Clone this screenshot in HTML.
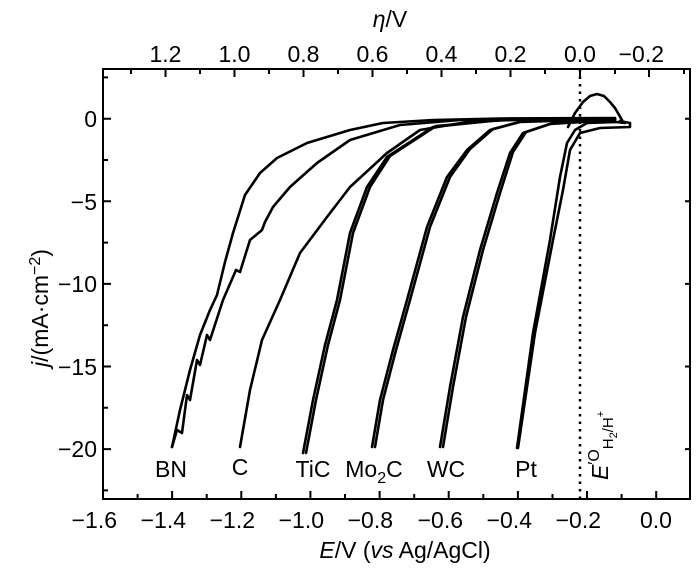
<!DOCTYPE html>
<html><head><meta charset="utf-8"><style>
html,body{margin:0;padding:0;background:#fff;}
svg{display:block;font-family:"Liberation Sans",Arial,sans-serif;}
</style></head><body>
<svg width="700" height="573" viewBox="0 0 700 573" xmlns="http://www.w3.org/2000/svg">
<rect x="0" y="0" width="700" height="573" fill="#fff"/>
<g stroke="#000" stroke-width="2" fill="none">
<rect x="103" y="69" width="587" height="430"/>
<path d="M103,499v-8 M137.6,499v-5 M172.1,499v-8 M206.7,499v-5 M241.3,499v-8 M275.9,499v-5 M310.4,499v-8 M345,499v-5 M379.6,499v-8 M414.2,499v-5 M448.7,499v-8 M483.3,499v-5 M517.9,499v-8 M552.5,499v-5 M587,499v-8 M621.6,499v-5 M656.2,499v-8"/>
<path d="M165.5,69v8 M200,69v5 M234.5,69v8 M269,69v5 M303.5,69v8 M338,69v5 M372.5,69v8 M407,69v5 M441.5,69v8 M476,69v5 M510.5,69v8 M545,69v5 M580,69v8 M615,69v5 M649,69v8 M684,69v5 M131,69v5"/>
<path d="M103,118.7h8 M103,160h5 M103,201.3h8 M103,242.6h5 M103,283.9h8 M103,325.2h5 M103,366.5h8 M103,407.8h5 M103,449.1h8 M103,490.4h5 M103,77.4h5"/>
<path d="M690,118.7h-5 M690,201.3h-5 M690,283.9h-5 M690,366.5h-5 M690,449.1h-5"/>
</g>
<line x1="580" y1="69" x2="580" y2="499" stroke="#000" stroke-width="2.5" stroke-dasharray="2.5,5"/>
<g fill="none" stroke="#000" stroke-width="2.6" stroke-linejoin="round" stroke-linecap="round">
<polyline points="172,447 180,410 190,370 200,335 210,310 217,295 225,262 233,233 245,195 260,173 277,158 307,143 350,130 383,123 433,120 500,118.5 615,118"/>
<polyline points="172,447 177,430 182,433 187,395 190,400 197,360 200,365 207,335 210,340 223,300 236,270 240,272 250,240 262,230 265,222 273,207 290,187 317,163 350,140 400,125 460,120 615,119"/>
<polyline points="240,447 250,390 262,340 280,300 300,253 327,217 350,187 387,153 420,130 467,122 520,119.5 615,119"/>
<polyline points="303,453 313,400 325,345 337,300 350,233 367,187 387,157 433,127 500,120 615,119"/>
<polyline points="306,453 316,400 328,345 340,300 353,233 370,187 390,156 436,126 503,120 615,119"/>
<polyline points="372,447 380,400 393,350 407,300 427,227 447,177 467,150 490,130 520,122 615,119"/>
<polyline points="375,447 383,400 396,350 410,300 430,227 450,177 470,149 493,129 523,121 615,119"/>
<polyline points="440,447 450,387 463,317 480,250 497,193 510,153 523,133 550,124 615,120"/>
<polyline points="443,447 453,387 466,317 483,250 500,193 513,152 526,132 553,123 615,120"/>
<polyline points="517,448 533,333 550,240 560,177 567,143 575,130 587,123 617,122 625,123"/>
<polyline points="518,448 535,333 553,240 563,190 570,150 580,133 600,128 630,127 630,123 620,121"/>
<polyline points="568,127 575,113 583,102 590,96 597,94 604,96 610,102 615,108 622,120"/>
</g>
<g font-size="23" fill="#000">
<text x="117" y="528" text-anchor="end">−1.6</text>
<text x="186" y="528" text-anchor="end">−1.4</text>
<text x="255" y="528" text-anchor="end">−1.2</text>
<text x="324" y="528" text-anchor="end">−1.0</text>
<text x="393" y="528" text-anchor="end">−0.8</text>
<text x="463" y="528" text-anchor="end">−0.6</text>
<text x="532" y="528" text-anchor="end">−0.4</text>
<text x="601" y="528" text-anchor="end">−0.2</text>
<text x="656" y="528" text-anchor="middle">0.0</text>
<text x="165.5" y="62" text-anchor="middle">1.2</text>
<text x="234.5" y="62" text-anchor="middle">1.0</text>
<text x="303.5" y="62" text-anchor="middle">0.8</text>
<text x="372.5" y="62" text-anchor="middle">0.6</text>
<text x="441.5" y="62" text-anchor="middle">0.4</text>
<text x="510.5" y="62" text-anchor="middle">0.2</text>
<text x="580" y="62" text-anchor="middle">0.0</text>
<text x="664" y="62" text-anchor="end">−0.2</text>
<text x="97" y="127" text-anchor="end">0</text>
<text x="97" y="210" text-anchor="end">−5</text>
<text x="97" y="292" text-anchor="end">−10</text>
<text x="97" y="375" text-anchor="end">−15</text>
<text x="97" y="457" text-anchor="end">−20</text>
<text x="171" y="477" text-anchor="middle">BN</text>
<text x="240" y="475" text-anchor="middle">C</text>
<text x="313" y="477" text-anchor="middle">TiC</text>
<text x="374" y="477" text-anchor="middle">Mo<tspan font-size="16" dy="6">2</tspan><tspan dy="-6">C</tspan></text>
<text x="446" y="477" text-anchor="middle">WC</text>
<text x="526" y="477" text-anchor="middle">Pt</text>
<text x="390" y="27" text-anchor="middle"><tspan font-style="italic">η</tspan>/V</text>
<text x="405" y="558" text-anchor="middle"><tspan font-style="italic">E</tspan>/V (<tspan font-style="italic">vs</tspan> Ag/AgCl)</text>
<text transform="translate(48,308) rotate(-90)" text-anchor="middle"><tspan font-style="italic">j</tspan>/(mA·cm<tspan font-size="16" dy="-8">−2</tspan><tspan dy="8">)</tspan></text>
<text transform="translate(608,480) rotate(-90)"><tspan font-style="italic">E</tspan><tspan font-size="16" dy="-9">′O</tspan><tspan font-size="15" dy="14">H</tspan><tspan font-size="11" dy="4">2</tspan><tspan font-size="15" dy="-4">/H</tspan><tspan font-size="11" dy="-9">+</tspan></text>
</g>
</svg>
</body></html>
